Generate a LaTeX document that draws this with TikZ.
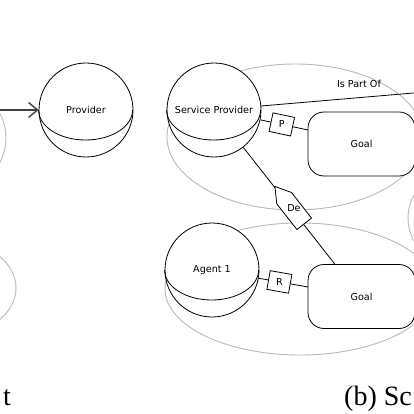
\documentclass[tikz,border=0pt]{standalone}
\usepackage{fontspec}
\setmainfont{DejaVu Sans}
\newfontfamily\capfont{Liberation Serif}
\usetikzlibrary{arrows.meta,calc}
\begin{document}
\begin{tikzpicture}[x=1pt,y=-1pt,
  lbl/.style={font=\fontsize{9.6}{11}\selectfont, inner sep=0pt},
  actor/.style={circle, draw, fill=white, minimum size=94pt, inner sep=0pt, line width=0.8pt, font=\fontsize{9.6}{11}\selectfont},
  goal/.style={rectangle, rounded corners=16pt, draw, fill=white, minimum width=107pt, minimum height=64pt, inner sep=0pt, line width=0.8pt, font=\fontsize{9.6}{11}\selectfont},
  bound/.style={draw=black!28, line width=0.9pt},
  link/.style={draw, line width=0.8pt},
  tagbox/.style={draw, fill=white, minimum width=22pt, minimum height=19pt, inner sep=0pt, sloped, line width=0.8pt},
  captext/.style={font=\capfont\fontsize{28}{30}\selectfont, inner sep=0pt}
]
\useasboundingbox (0,0) rectangle (414,414);
\clip (0,0) rectangle (414,414);

% boundaries
\draw[bound] (-60,138) ellipse [x radius=66, y radius=58];
\draw[bound] (-50,288) ellipse [x radius=66, y radius=48];
\draw[bound] (295,137) ellipse [x radius=128, y radius=73];
\draw[bound] (300,289) ellipse [x radius=135, y radius=66];
\draw[bound] (455,218) circle [radius=47];

% actors
\node[actor] (prov) at (86,110) {Provider};
\node[actor] (sp) at (214,110) {Service Provider};
\node[actor] (ag) at (212,270) {Agent 1};
\foreach \a in {prov,sp,ag}
  \draw[line width=0.8pt] (\a.west) arc[start angle=180, end angle=0, x radius=47, y radius=30];

% goals
\node[goal] (g1) at (361.5,144) {Goal};
\node[goal] (g2) at (361.5,296.5) {Goal};

% incoming arrow
\coordinate (ain) at (-5,110);
\draw[-{Straight Barb[length=9pt,width=15pt]}, draw=black!75, line width=1.4pt] (ain) -- (prov);

% is part of
\coordinate (ipo) at (430,91.6);
\draw[link] (sp) -- (ipo);
\node[lbl] (ipol) at (359,84) {Is Part Of};

% P link
\coordinate (g1p) at (308,130);
\draw[link] (sp) -- node[tagbox, pos=0.45] (pb) {} (g1p);
\node[lbl] (pbl) at (pb) {P};

% R link
\coordinate (g2r) at (308,287);
\draw[link] (ag) -- node[tagbox, pos=0.42] (rb) {} (g2r);
\node[lbl] (rbl) at (rb) {R};

% De link
\coordinate (g2d) at (335.5,265);
\draw[link] (sp) -- (g2d);
\filldraw[fill=white, line width=0.8pt] (274.9,186.4) -- (291.5,192.5) -- (311.5,218.1) -- (296.9,229.5) -- (276.8,203.9) -- cycle;
\node[lbl] (de) at (294,208) {De};

% captions
\node[captext, anchor=base east] (capa) at (11,405) {t};
\node[captext, anchor=base west] (capb) at (344,405) {(b) Sc};
\end{tikzpicture}
\end{document}
